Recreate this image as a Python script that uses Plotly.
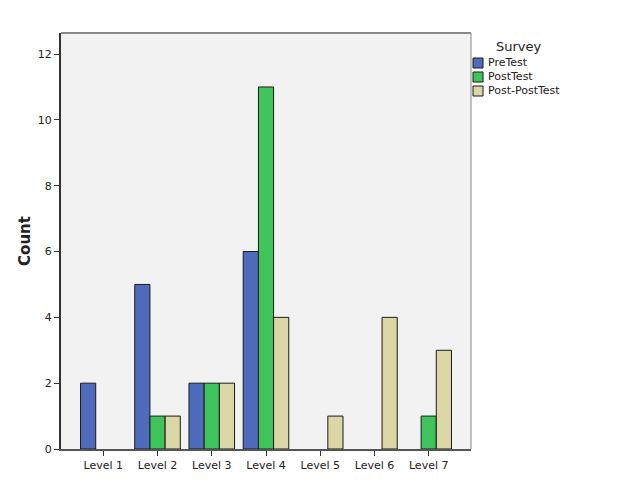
import plotly.graph_objects as go

levels = ["Level 1", "Level 2", "Level 3", "Level 4", "Level 5", "Level 6", "Level 7"]
pre_test = [2, 5, 2, 6, 0, 0, 0]
post_test = [0, 1, 2, 11, 0, 0, 1]
post_post_test = [0, 1, 2, 4, 1, 4, 3]

series = [
    ("PreTest", pre_test, "#4f6bbd"),
    ("PostTest", post_test, "#3ec45a"),
    ("Post-PostTest", post_post_test, "#dad6a6"),
]

# plot area in page pixels (page body has an 8px margin)
PX_L, PX_R, PX_T, PX_B = 61, 471, 33, 449
W, H = 621, 496


def px_to_paper(px, py):
    return ((px - PX_L) / (PX_R - PX_L), (PX_B - py) / (PX_B - PX_T))


fig = go.Figure()
for name, vals, color in series:
    # zero counts are not drawn in the original
    fig.add_trace(go.Bar(
        x=levels, y=[v if v else None for v in vals], name=name,
        marker=dict(color=color, line=dict(color="#1a1a1a", width=1)),
        showlegend=False,
    ))

fig.update_layout(
    width=W, height=H,
    margin=dict(l=PX_L - 8, r=W + 8 - PX_R, t=PX_T - 8, b=H + 8 - PX_B),
    paper_bgcolor="white", plot_bgcolor="#f2f2f2",
    barmode="group", bargap=0.16, bargroupgap=0,
    font=dict(family="DejaVu Sans", size=11, color="#222222"),
)
fig.update_xaxes(
    range=[-0.78, 6.78], showline=True, linecolor="#555555", linewidth=2,
    ticks="outside", ticklen=5, tickcolor="#333333", showgrid=False,
    automargin=False,
)
fig.update_yaxes(
    range=[0, 12.64], dtick=2, showline=True, linecolor="#333333", linewidth=2,
    ticks="outside", ticklen=5, tickcolor="#333333", showgrid=False,
    zeroline=False, automargin=False,
    title=dict(text="<b>Count</b>", font=dict(size=15), standoff=4),
)
# grey top/right frame
fig.add_shape(type="line", xref="paper", yref="paper", x0=0, x1=1, y0=1, y1=1,
              line=dict(color="#888888", width=2))
fig.add_shape(type="line", xref="paper", yref="paper", x0=1, x1=1, y0=0, y1=1,
              line=dict(color="#888888", width=1))

# legend drawn by hand to get the tight SPSS spacing
tx, ty = px_to_paper(519, 46)
fig.add_annotation(text="Survey", x=tx, y=ty, xref="paper", yref="paper",
                   xanchor="center", yanchor="middle", showarrow=False,
                   font=dict(size=13, color="#222222"))
for i, (name, vals, color) in enumerate(series):
    cy = 63 + i * 14
    x0, y0 = px_to_paper(473, cy + 5)
    x1, y1 = px_to_paper(483, cy - 5)
    fig.add_shape(type="rect", xref="paper", yref="paper", x0=x0, x1=x1, y0=y0, y1=y1,
                  fillcolor=color, line=dict(color="#1a1a1a", width=1))
    lx, ly = px_to_paper(486, cy)
    fig.add_annotation(text=name, x=lx, y=ly, xref="paper", yref="paper",
                       xanchor="left", yanchor="middle", showarrow=False,
                       font=dict(size=11, color="#222222"))

fig.write_html("out.html")
